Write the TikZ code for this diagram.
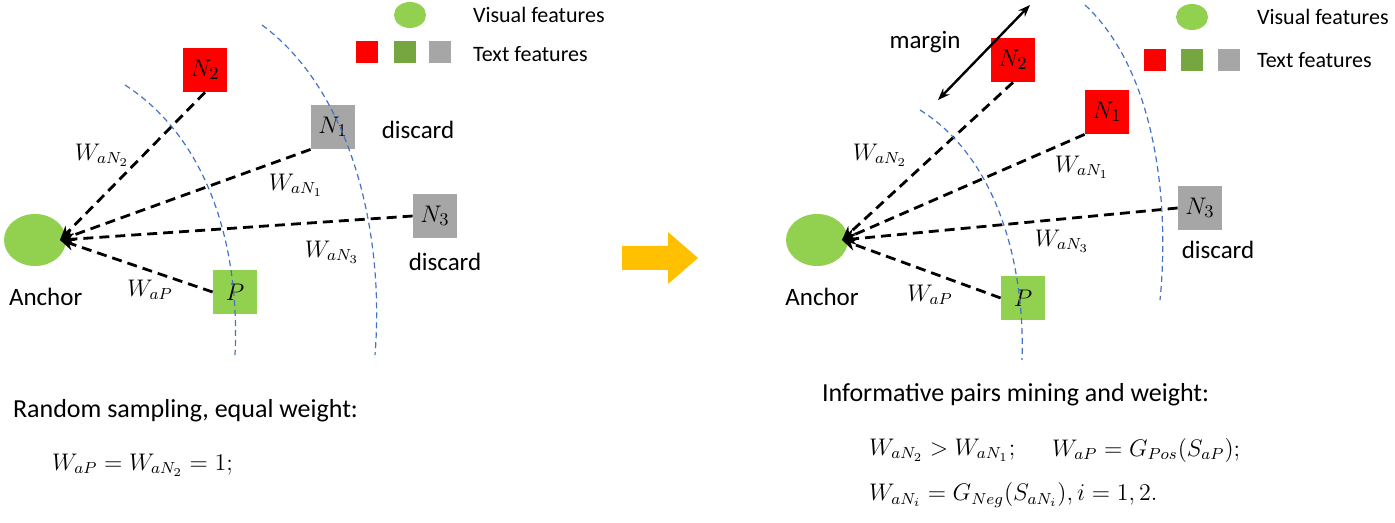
\documentclass[tikz,border=0pt]{standalone}
\usepackage{fontspec}
\setmainfont{Carlito}
\usetikzlibrary{arrows.meta,shapes.geometric}
\definecolor{gr}{RGB}{146,208,80}
\definecolor{rd}{RGB}{255,0,0}
\definecolor{gy}{RGB}{166,166,166}
\definecolor{ar}{RGB}{68,114,196}
\definecolor{og}{RGB}{255,192,0}
\begin{document}
\begin{tikzpicture}[x=0.5pt,y=-0.5pt,
 sq/.style={draw=none,minimum size=22pt,inner sep=0pt,font=\fontsize{13}{13}\selectfont},
 anc/.style={ellipse,fill=gr,minimum width=31pt,minimum height=26pt,inner sep=0pt},
 con/.style={dashed,line width=1.4pt,dash pattern=on 5pt off 3pt,-{Stealth[length=7pt,width=6pt]}},
 arc/.style={ar,dashed,line width=0.6pt,dash pattern=on 3pt off 2pt},
 lab/.style={font=\fontsize{12}{12}\selectfont},
 txt/.style={font=\fontsize{12.5}{12.5}\selectfont},
 leg/.style={font=\fontsize{11}{11}\selectfont,anchor=west},
 big/.style={font=\fontsize{13}{13}\selectfont,anchor=west},
 fm/.style={font=\fontsize{11.5}{11.5}\selectfont,anchor=west}]
\useasboundingbox (0,0) rectangle (1395,523);
% ---------- left ----------
\node[anc] (A1) at (35,240) {};
\node[txt,anchor=west] (A1t) at (2,297) {Anchor};
\node[sq,fill=rd] (N2a) at (205,70) {$N_2$};
\node[sq,fill=gy] (N1a) at (333,127) {$N_1$};
\node[sq,fill=gy] (N3a) at (435,216) {$N_3$};
\node[sq,fill=gr] (Pa) at (235,292) {$P$};
\coordinate (T1) at (60,240);
\draw[con] (N2a.south) -- (T1);
\draw[con] (N1a.south west) -- (T1);
\draw[con] (N3a.west) -- (T1);
\draw[con] (Pa.west) -- (T1);
\draw[arc] (125,85) .. controls (210,140) and (240,250) .. (235,355);
\draw[arc] (262,25) .. controls (350,90) and (385,230) .. (375,355);
\node[lab] at (102,155) {$W_{aN_2}$};
\node[lab] at (296,185) {$W_{aN_1}$};
\node[lab] at (332,252) {$W_{aN_3}$};
\node[lab] at (150,290) {$W_{aP}$};
\node[txt] at (418,130) {discard};
\node[txt] at (445,262) {discard};
\node[ellipse,fill=gr,minimum width=16pt,minimum height=13pt] (Lg1) at (410,15) {};
\node[sq,fill=rd,minimum size=11pt] (Lr1) at (367,52) {};
\node[sq,fill=gr!80!black,minimum size=11pt] (Lg1b) at (405,52) {};
\node[sq,fill=gy,minimum size=11pt] (Ly1) at (440,52) {};
\node[leg] at (466,15) {Visual features};
\node[leg] at (466,54) {Text features};
\node[big] at (6,411) {Random sampling, equal weight:};
\node[fm] at (45,465) {$W_{aP}=W_{aN_2}=1;$};
% ---------- arrow ----------
\fill[og] (622,246) -- (668,246) -- (668,232) -- (698,258) -- (668,284) -- (668,270) -- (622,270) -- cycle;
% ---------- right ----------
\node[anc] (A2) at (817,240) {};
\node[txt] (A2t) at (822,297) {Anchor};
\node[sq,fill=rd] (N2b) at (1013,60) {$N_2$};
\node[sq,fill=rd] (N1b) at (1107,112) {$N_1$};
\node[sq,fill=gy] (N3b) at (1200,208) {$N_3$};
\node[sq,fill=gr] (Pb) at (1023,298) {$P$};
\coordinate (T2) at (842,240);
\draw[con] (N2b.south) -- (T2);
\draw[con] (N1b.south west) -- (T2);
\draw[con] (N3b.west) -- (T2);
\draw[con] (Pb.west) -- (T2);
\draw[arc] (920,110) .. controls (1000,160) and (1025,270) .. (1022,360);
\draw[arc] (1085,5) .. controls (1155,70) and (1170,200) .. (1160,300);
\coordinate (M1) at (938,100);
\coordinate (M2) at (1030,5);
\draw[line width=1.2pt,{Stealth[length=6pt]}-{Stealth[length=6pt]}] (M1) -- (M2);
\node[txt] at (925,42) {margin};
\node[lab] at (880,155) {$W_{aN_2}$};
\node[lab] at (1082,167) {$W_{aN_1}$};
\node[lab] at (1062,241) {$W_{aN_3}$};
\node[lab] at (930,295) {$W_{aP}$};
\node[txt] at (1218,250) {discard};
\node[ellipse,fill=gr,minimum width=16pt,minimum height=13pt] (Lg2) at (1192,17) {};
\node[sq,fill=rd,minimum size=11pt] (Lr2) at (1155,60) {};
\node[sq,fill=gr!80!black,minimum size=11pt] (Lg2b) at (1192,60) {};
\node[sq,fill=gy,minimum size=11pt] (Ly2) at (1229,60) {};
\node[leg] at (1250,17) {Visual features};
\node[leg] at (1250,60) {Text features};
\node[big] at (815,395) {Informative pairs mining and weight:};
\node[fm] at (862,450) {$W_{aN_2}>W_{aN_1};$};
\node[fm] at (1045,450) {$W_{aP}=G_{Pos}(S_{aP});$};
\node[fm] at (862,495) {$W_{aN_i}=G_{Neg}\bigl(S_{aN_i}\bigr), i=1,2.$};
\end{tikzpicture}
\end{document}
